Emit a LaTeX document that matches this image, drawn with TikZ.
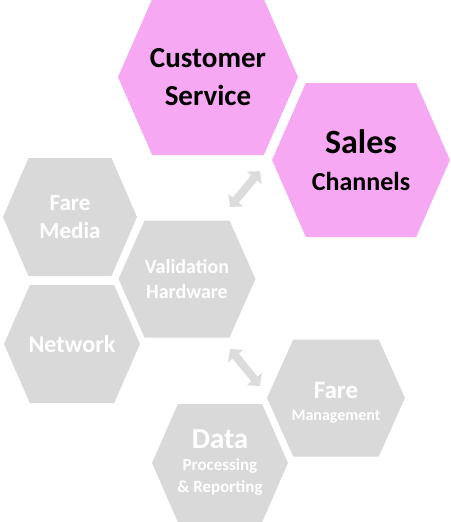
\documentclass[tikz,border=0pt]{standalone}
\usepackage{fontspec}
\setmainfont{Carlito}
\usetikzlibrary{calc,arrows.meta}
\definecolor{hexpink}{HTML}{F7A8F3}
\definecolor{hexgray}{HTML}{D9D9D9}
\definecolor{arrgray}{HTML}{DCDCDC}
\newcommand{\fsz}[2]{\fontsize{#1}{#2}\selectfont}
\tikzset{
  hexfill/.style={inner sep=0pt, align=center,
    path picture={\fill[#1] (path picture bounding box.west)
      -- ($(path picture bounding box.north west)!.19!(path picture bounding box.north east)$)
      -- ($(path picture bounding box.north west)!.81!(path picture bounding box.north east)$)
      -- (path picture bounding box.east)
      -- ($(path picture bounding box.south west)!.81!(path picture bounding box.south east)$)
      -- ($(path picture bounding box.south west)!.19!(path picture bounding box.south east)$)
      -- cycle;}},
  pinkhex/.style={hexfill=hexpink, text=black},
  grayhex/.style={hexfill=hexgray, text=white},
  dblarrow/.style={draw=arrgray, line width=8pt,
    {Triangle[width=19pt,length=9pt,fill=arrgray]}-{Triangle[width=19pt,length=9pt,fill=arrgray]}}
}
\begin{document}
\begin{tikzpicture}[x=1pt,y=-1pt]
\useasboundingbox (0,0) rectangle (450,522);
\node[pinkhex, minimum width=180pt, minimum height=156pt, font=\bfseries\fsz{29}{38}] (cs) at (208,77)
  {Customer\\Service};
\node[pinkhex, minimum width=178pt, minimum height=154pt, font=\bfseries\fsz{26}{37}] (sc) at (361,160)
  {{\fsz{34}{37}Sales}\\Channels};
\node[grayhex, minimum width=134pt, minimum height=118pt, font=\bfseries\fsz{23}{28}] (fm) at (70,217)
  {Fare\\Media};
\node[grayhex, minimum width=137pt, minimum height=117pt, font=\bfseries\fsz{20}{25}] (vh) at (187,279)
  {Validation\\Hardware};
\node[grayhex, minimum width=136pt, minimum height=118pt, font=\bfseries\fsz{24}{28}] (nw) at (72,344)
  {Network};
\node[grayhex, minimum width=138pt, minimum height=117pt, font=\bfseries\fsz{16}{22}] (fmg) at (336,398)
  {{\fsz{25}{22}\rule{0pt}{26pt}Fare}\\Management};
\node[grayhex, minimum width=136pt, minimum height=118pt, font=\bfseries\fsz{17}{22}] (dp) at (220,463)
  {{\fsz{29}{22}Data}\\Processing\\\& Reporting};
\coordinate (a1s) at (230,207);
\coordinate (a1e) at (260,171);
\coordinate (a2s) at (230,349);
\coordinate (a2e) at (260,386);
\draw[dblarrow] (a1s) -- (a1e);
\draw[dblarrow] (a2s) -- (a2e);
\end{tikzpicture}
\end{document}
